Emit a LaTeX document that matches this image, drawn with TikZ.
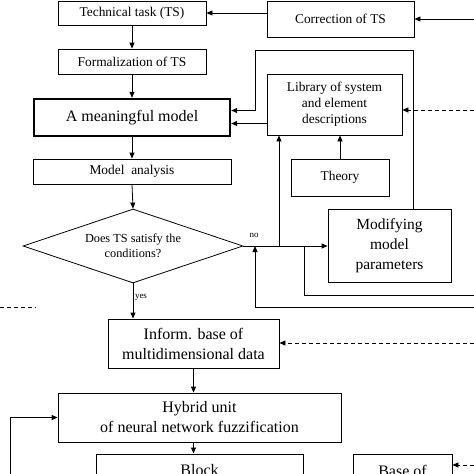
\documentclass[tikz,border=0pt]{standalone}
\usepackage{fontspec}
\setmainfont{Liberation Serif}
\usetikzlibrary{shapes.geometric,arrows.meta}
\begin{document}
\begin{tikzpicture}[x=1pt,y=-1pt,
  box/.style={draw, line width=0.8pt, inner sep=0pt, align=center},
  arr/.style={line width=0.8pt, -{Triangle[length=6pt,width=5pt]}},
  darr/.style={arr, dash pattern=on 4pt off 3pt},
  ln/.style={line width=0.8pt},
  fs/.style={font=\fontsize{13.4pt}{16pt}\selectfont},
  fl/.style={font=\fontsize{16pt}{20pt}\selectfont},
  fd/.style={font=\fontsize{12.3pt}{15.5pt}\selectfont},
  fy/.style={font=\fontsize{9pt}{10pt}\selectfont}]
\useasboundingbox (0,0) rectangle (474,474);
\clip (0,0) rectangle (474,474);
% boxes
\node[box,fs,minimum width=148pt,minimum height=24pt] (tt) at (132,13) {Technical task (TS)};
\node[box,fs,minimum width=147pt,minimum height=36pt] (cor) at (340.5,19) {Correction of TS};
\node[box,fs,minimum width=148pt,minimum height=25pt] (form) at (132,61.5) {Formalization of TS};
\node[box,fl,line width=2.4pt,minimum width=196pt,minimum height=37pt] (mm) at (132,117.5) {A meaningful model};
\node[box,fs,minimum width=135pt,minimum height=61pt] (lib) at (334.5,104.5) {Library of system\\and element\\descriptions};
\node[box,fs,minimum width=98pt,minimum height=37pt] (theory) at (340,177.5) {Theory};
\node[box,fs,minimum width=198pt,minimum height=25pt] (ma) at (132,171.5) {Model\ \ analysis};
\node[draw,diamond,line width=0.8pt,inner sep=0pt,minimum width=220pt,minimum height=74pt] (dia) at (133,246) {};
\node[fd,align=center] (diatxt) at (133,246) {Does TS satisfy the\\conditions?};
\node[box,fl,font=\fontsize{15.5pt}{20pt}\selectfont,minimum width=123pt,minimum height=73pt] (mod) at (389.5,245.5) {Modifying\\model\\parameters};
\node[box,fl,minimum width=171pt,minimum height=49pt] (inf) at (193.5,343.5) {Inform. base of\\multidimensional data};
\node[box,fl,minimum width=283pt,minimum height=49pt] (hyb) at (199.5,417.5) {Hybrid unit\\of neural network fuzzification};
\node[box,minimum width=207pt,minimum height=60pt,anchor=north] (block) at (199.5,453.5) {};
\node[fl] (blocktxt) at (199.5,470) {Block};
\node[box,minimum width=99pt,minimum height=60pt,anchor=north] (base) at (402.5,454) {};
\node[fl] (basetxt) at (402.5,471) {Base of};
% labels
\node[fy] (no) at (254,235) {no};
\node[fy] (yes) at (141,297) {yes};
% coordinates
\coordinate (corin) at (474,19);
\coordinate (libin) at (474,110);
\coordinate (lpA) at (413,50);
\coordinate (lpB) at (255,50);
\coordinate (nb) at (279,246);
\coordinate (j1) at (304,246);
\coordinate (r1) at (474,295);
\coordinate (r2) at (474,307);
\coordinate (nupin) at (255,246);
\coordinate (infin) at (474,343);
\coordinate (dl1) at (0,307);
\coordinate (dl2) at (36,307);
\coordinate (fb) at (10,480);
\coordinate (basein) at (474,465);
% connectors
\draw[arr] (tt.east -| cor.west) -- (tt.east);
\draw[arr] (corin) -- (cor.east);
\draw[arr] (tt.south) -- (form.north);
\draw[arr] (form.south) -- (mm.north);
\draw[arr] (mm.south) -- (ma.north);
\draw[arr] (ma.south) -- (dia.north);
\draw[arr] (lpA |- mod.north) -- (lpA) -- (lpB) -- (lpB |- 0,110.5) -- ([yshift=7pt]mm.east);
\draw[arr] ([yshift=-6pt]mm.east -| lib.west) -- ([yshift=-6pt]mm.east);
\draw[darr] (libin) -- (libin -| lib.east);
\draw[arr] (theory.north) -- (theory.north |- lib.south);
\draw[arr] (dia.east) -- (dia.east -| mod.west);
\draw[arr] (nb) -- (nb |- lib.south);
\draw[ln] (j1) |- (r1);
\draw[arr] (r2) -| (nupin);
\draw[arr] (dia.south) -- (dia.south |- inf.north);
\draw[darr] (infin) -- (inf.east |- infin);
\draw[ln, dash pattern=on 4pt off 3pt] (dl1) -- (dl2);
\draw[arr] (inf.south) -- (inf.south |- hyb.north);
\draw[arr] (fb) |- (hyb.west);
\draw[arr] (hyb.south -| inf.south) -- (block.north -| inf.south);
\draw[darr] (basein) -- (basein -| base.east);
\end{tikzpicture}
\end{document}
